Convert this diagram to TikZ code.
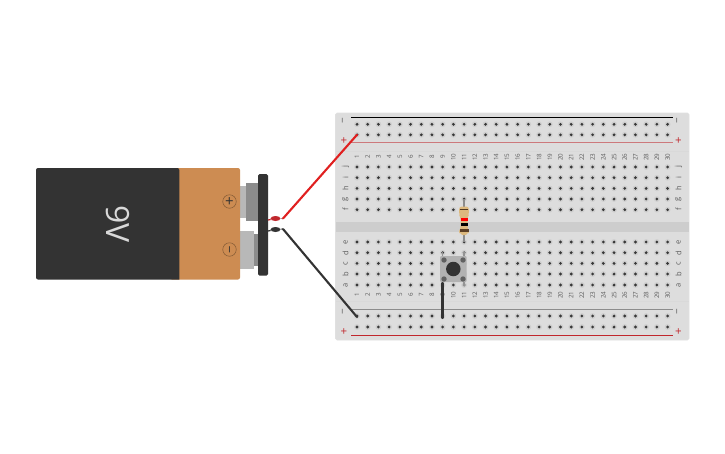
\documentclass[tikz,border=0pt]{standalone}
\usepackage{fontspec}
\usetikzlibrary{shapes.geometric}
\setmainfont{Open Sans}
\definecolor{boardgray}{HTML}{DDDDDD}
\definecolor{channelgray}{HTML}{CDCDCD}
\definecolor{batdark}{HTML}{333333}
\definecolor{copper}{HTML}{CD8C52}
\definecolor{railred}{HTML}{C0272D}
\definecolor{wirered}{HTML}{E02020}
\definecolor{labelgray}{HTML}{5A5A5A}
\definecolor{restan}{HTML}{DDB97E}
\begin{document}
\begin{tikzpicture}[x=1pt, y=-1pt, line cap=butt]
	\tikzset{
		halo/.style = {circle, fill=black!19, inner sep=0pt, minimum size=5.8pt},
		hole/.style = {circle, fill=black!78, inner sep=0pt, minimum size=3.1pt},
		numlabel/.style = {inner sep=0pt, text=labelgray, font=\fontsize{6.2}{6.2}\selectfont, rotate=90},
		letterlabel/.style = {inner sep=0pt, text=labelgray, font=\fontsize{7.5}{7.5}\selectfont, rotate=90},
		railplus/.style = {inner sep=0pt, text=railred, font=\fontsize{11.5}{11.5}\selectfont},
		railminus/.style = {inner sep=0pt, text=labelgray, font=\fontsize{10}{10}\selectfont, rotate=90},
		part/.style = {draw=none, fill=#1},
		wire/.style = {draw=#1, line width=2.1pt, line cap=round},
		cliptip/.style = {ellipse, fill=#1, inner sep=0pt, minimum width=10pt, minimum height=5pt},
		terminal/.style = {circle, draw=black!35!copper, line width=.5pt, fill=copper, inner sep=0pt, minimum size=13.5pt, text=batdark, font=\fontsize{15}{15}\selectfont},
		screw/.style = {circle, fill=black!62, inner sep=0pt, minimum size=5.4pt},
		pin/.style = {draw=black!42, line width=1.6pt},
	}
	\useasboundingbox (0,0) rectangle (725,453);

	% breadboard
	\fill[boardgray, draw=black!12, line width=.6pt, rounded corners=1.5pt] (335.5,113) rectangle (689,340);
	\fill[channelgray] (336,222) rectangle (688.5,232);
	\draw[black!15, line width=.7pt] (336,151.5) -- (688.5,151.5);
	\draw[black!15, line width=.7pt] (336,301) -- (688.5,301);
	\draw[black, line width=.9pt] (351,117) -- (673,117);
	\draw[railred!55!boardgray, line width=1.4pt] (351,142.7) -- (673,142.7);
	\draw[black!45, line width=1.3pt] (351,309.7) -- (673,309.7);
	\draw[railred, line width=.9pt] (351,335.7) -- (673,335.7);
	\foreach \row in {124.3,134.8,167,177.7,188.4,199,209.7,242,252.7,263.4,274,285,316,327}
		\foreach \col in {0,...,29} {
			\node[halo] at (357+10.71*\col,\row) {};
			\node[hole] at (357+10.71*\col,\row) {};
		}
	\foreach \col in {1,...,30} {
		\node[numlabel] at (346.3+10.71*\col,157) {\col};
		\node[numlabel] at (346.3+10.71*\col,295) {\col};
	}
	\foreach \letter/\row in {j/167,i/177.7,h/188.4,g/199,f/209.7,e/242,d/252.7,c/263.4,b/274,a/285} {
		\node[letterlabel] at (345.5,\row) {\letter};
		\node[letterlabel] at (678.5,\row) {\letter};
	}
	\foreach \row in {120.5,312} {
		\node[railminus] at (344,\row) {−};
		\node[railminus] at (678.5,\row) {−};
	}
	\foreach \row in {141,332} {
		\node[railplus] at (344,\row) {+};
		\node[railplus] at (678.5,\row) {+};
	}

	% battery
	\fill[part=black!28] (240,186) rectangle (246,217.7);
	\fill[part=black!45] (246,182.7) rectangle (258,220.7);
	\fill[part=black!28] (240,231) rectangle (253.5,269);
	\fill[part=black!45] (253.5,234) rectangle (258,266);
	\fill[copper, rounded corners=2pt] (170,168) rectangle (240,279.5);
	\fill[batdark, rounded corners=2pt] (36,168) -- (179.3,168) [sharp corners] -- (179.3,279.5) [rounded corners=2pt] -- (36,279.5) -- cycle;
	\fill[part=batdark, rounded corners=1.5pt] (258,174) rectangle (268,275.5);
	\node[rotate=-90, text=black!15, inner sep=0pt, font=\fontsize{32}{32}\selectfont] (batlabel) at (118,224) {9V};
	\node[terminal] (plus) at (229.5,201.5) {\raisebox{-5.2pt}[0pt][0pt]{+}};
	\node[terminal, font=\fontsize{13}{13}\selectfont, rotate=90] (minus) at (229.5,249.5) {\raisebox{-4.5pt}[0pt][0pt]{−}};

	% button
	\draw[pin] (442.5,252) -- (442.5,286);
	\draw[pin] (464,252) -- (464,286);
	\fill[part=black!30, rounded corners=1pt] (440,256) rectangle (466.7,282);
	\node[circle, fill=black!80, inner sep=0pt, minimum size=14.5pt] (button) at (453.3,269) {};
	\foreach \x/\y in {444/260,463/260,444/279,463/279}
		\node[screw] at (\x,\y) {};

	% resistor
	\draw[black!45, line width=1.6pt] (464,199) -- (464,242);
	\fill[part=restan, rounded corners=2.5pt] (459.2,206.5) -- (468.8,206.5) -- (468.8,215) -- (467.5,217) -- (467.5,229) -- (468.8,231) -- (468.8,233) -- (464,236) -- (459.2,233) -- (459.2,231) -- (460.5,229) -- (460.5,217) -- (459.2,215) -- cycle;
	\fill[red] (460.5,218) rectangle (467.5,221);
	\fill[black] (460.5,223) rectangle (467.5,226);
	\fill[black!55!copper] (459.5,228.5) rectangle (468.5,232);
	\draw[black!60!copper, line width=.6pt] (460,209.7) -- (468,209.7);

	% wires
	\coordinate (redstart) at (268,220);
	\coordinate (redtip) at (283,218.5);
	\coordinate (redend) at (357,134.8);
	\coordinate (blackstart) at (268,231);
	\coordinate (blacktip) at (283,229);
	\coordinate (blackend) at (357,317);
	\coordinate (switchtop) at (442.5,283);
	\coordinate (switchend) at (442.5,318);
	\node[cliptip=railred] (redclip) at (275.5,218.5) {};
	\node[cliptip=batdark] (blackclip) at (275.5,229.5) {};
	\draw[railred, line width=1.2pt] (redstart) -- (redclip);
	\draw[batdark, line width=1.2pt] (blackstart) -- (blackclip);
	\draw[black!40, line width=1.4pt] (redclip) -- (redtip);
	\draw[black!40, line width=1.4pt] (blackclip) -- (blacktip);
	\draw[wire=wirered] (redtip) -- (redend);
	\draw[wire=batdark] (blacktip) -- (blackend);
	\draw[wire=batdark] (switchtop) -- (switchend);
\end{tikzpicture}
\end{document}
